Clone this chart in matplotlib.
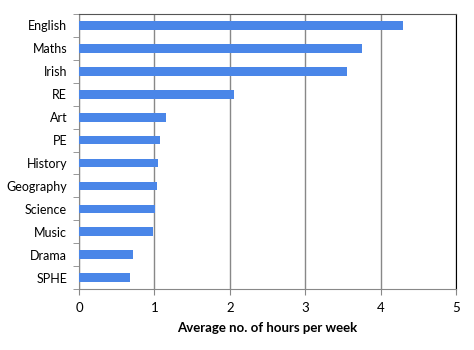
import numpy as np
import matplotlib.pyplot as plt
from matplotlib.ticker import FixedLocator

plt.rcParams['font.family'] = ['Lato', 'DejaVu Sans']

subjects = ['English', 'Maths', 'Irish', 'RE', 'Art', 'PE', 'History',
            'Geography', 'Science', 'Music', 'Drama', 'SPHE']
hours = [4.30, 3.75, 3.56, 2.06, 1.16, 1.08, 1.05, 1.04, 1.01, 0.98, 0.72, 0.68]

fig = plt.figure(figsize=(4.74, 3.5), dpi=100)
ax = fig.add_axes([0.1667, 0.174, 0.7953, 0.786])

y = np.arange(len(subjects))
ax.barh(y, hours, height=0.38, color='#4a86e8', zorder=3)
ax.set_ylim(len(subjects) - 0.5, -0.5)
ax.set_xlim(0, 5)
ax.set_xticks(range(6))
ax.set_yticks(y)
ax.set_yticklabels(subjects, fontsize=9)
ax.tick_params(axis='y', length=0, pad=8.5)
# category boundary ticks like Excel
ax.yaxis.set_minor_locator(FixedLocator(np.arange(-0.5, len(subjects), 1)))
ax.tick_params(axis='y', which='minor', length=4, color='#888888')
ax.tick_params(axis='x', length=4, color='#888888', labelsize=9.5, pad=5)
ax.grid(axis='x', color='#888888', linewidth=1, zorder=0)
ax.set_xlabel('Average no. of hours per week', fontsize=9.5, fontweight='bold', labelpad=6)

for s in ['left', 'bottom']:
    ax.spines[s].set_color('#888888')
ax.spines['right'].set_color('black')
ax.spines['top'].set_color('#555555')

fig.savefig('out.png', dpi=100)
